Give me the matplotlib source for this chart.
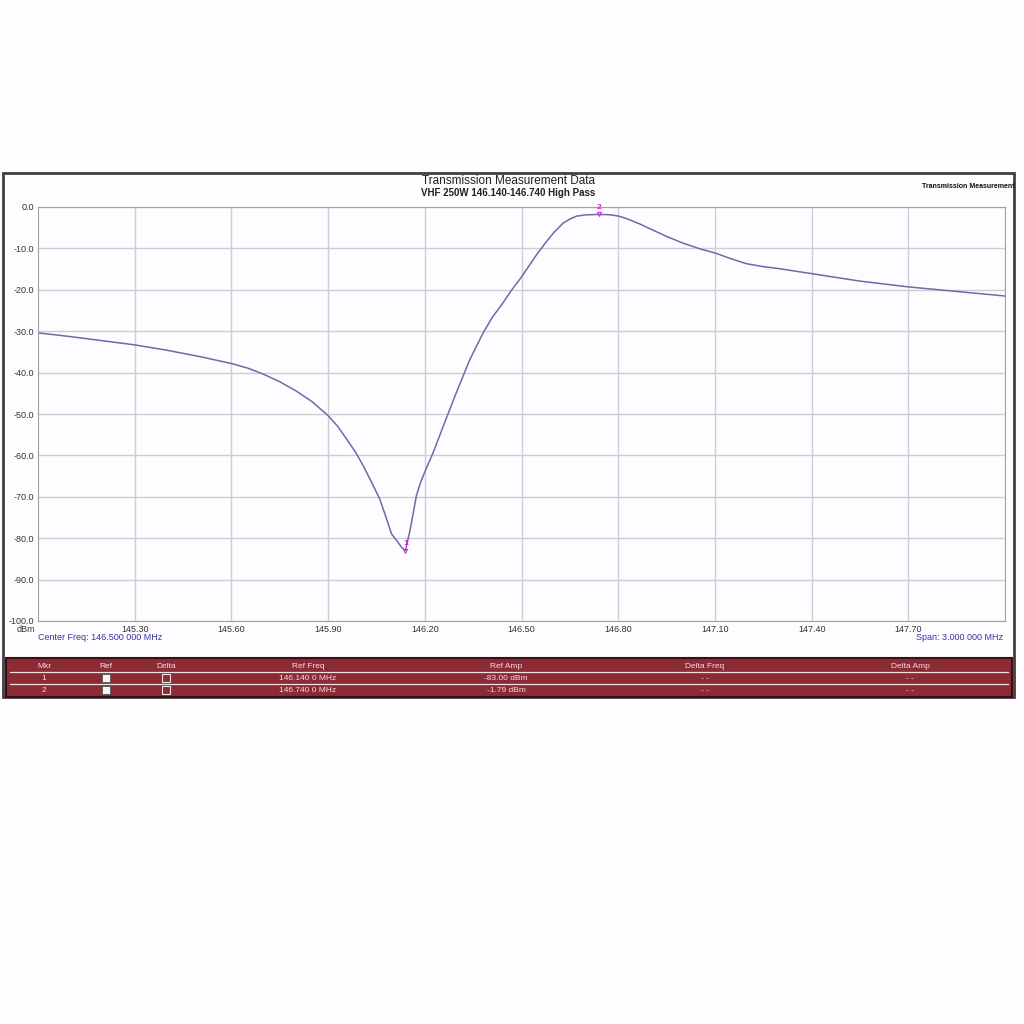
import matplotlib
matplotlib.use("Agg")
import matplotlib.pyplot as plt
from matplotlib.patches import Rectangle

plt.rcParams["font.family"] = ["Liberation Sans", "DejaVu Sans"]

# trace (MHz, dBm)
freq = [145.00, 145.10, 145.20, 145.30, 145.40, 145.50, 145.60, 145.65, 145.70,
        145.75, 145.80, 145.85, 145.90, 145.93, 145.957, 145.985, 146.009, 146.035,
        146.06, 146.08, 146.097, 146.117, 146.128, 146.14, 146.153, 146.164,
        146.174, 146.187, 146.20, 146.226, 146.262, 146.298, 146.34, 146.381,
        146.41, 146.443, 146.47, 146.50, 146.547, 146.575, 146.60, 146.629,
        146.65, 146.671, 146.70, 146.74, 146.77, 146.795, 146.815, 146.836,
        146.87, 146.90, 146.95, 147.00, 147.053, 147.10, 147.15, 147.198,
        147.25, 147.30, 147.40, 147.55, 147.70, 147.85, 148.00]
level = [-30.4, -31.3, -32.3, -33.3, -34.6, -36.1, -37.8, -38.9, -40.4,
         -42.2, -44.4, -47.0, -50.4, -53.0, -56.0, -59.2, -62.5, -66.5,
         -70.5, -75.0, -79.0, -81.0, -82.2, -83.0, -78.5, -74.0,
         -69.7, -66.5, -64.0, -59.3, -52.0, -44.8, -36.8, -30.4,
         -26.6, -23.1, -20.0, -16.9, -11.5, -8.6, -6.2, -3.9,
         -2.9, -2.2, -1.9, -1.79, -1.85, -2.1, -2.5, -3.1,
         -4.2, -5.3, -7.1, -8.7, -10.1, -11.1, -12.5, -13.7,
         -14.4, -14.9, -16.1, -17.9, -19.3, -20.4, -21.5]

mkr_ids = ["1", "2"]
mkr_freq = [146.140, 146.740]
mkr_amp = [-83.00, -1.79]

xticks = [145.30, 145.60, 145.90, 146.20, 146.50, 146.80, 147.10, 147.40, 147.70]
yticks = [0, -10, -20, -30, -40, -50, -60, -70, -80, -90, -100]

table_cols = ["Mkr", "Ref", "Delta", "Ref Freq", "Ref Amp", "Delta Freq", "Delta Amp"]
col_x = [44, 106, 166, 308, 506, 705, 910]

W = H = 1024
fig = plt.figure(figsize=(10.24, 10.24), dpi=100)
fig.patch.set_facecolor("#fefcfe")


def fx(px):
    return px / W


def fy(py):
    return 1 - py / H


# outer window frame
fig.patches.append(Rectangle((fx(3), fy(697)), fx(1014) - fx(3), fy(173) - fy(697),
                             transform=fig.transFigure, fill=False,
                             edgecolor="#404040", linewidth=2))

ax = fig.add_axes([fx(38), fy(621), fx(1005) - fx(38), fy(207) - fy(621)])
ax.set_facecolor("#fefcfe")
ax.plot(freq, level, color="#6b6ba8", linewidth=1.1, solid_joinstyle="round")
ax.set_xlim(145.0, 148.0)
ax.set_ylim(-100, 0)
ax.set_xticks(xticks)
ax.set_xticklabels([f"{t:.2f}" for t in xticks])
ax.set_yticks(yticks)
ax.set_yticklabels([f"{t:.1f}" for t in yticks])
ax.tick_params(length=0, labelsize=6.5, colors="#333333", pad=3)
ax.grid(True, color="#cfcdd3", linewidth=1)
for s in ax.spines.values():
    s.set_color("#a0a0a0")

for mid, mf, ma in zip(mkr_ids, mkr_freq, mkr_amp):
    ax.plot(mf, ma, marker="v", markersize=3, markerfacecolor="none",
            markeredgecolor="#d020d0", markeredgewidth=0.7)
    ax.annotate(mid, (mf, ma), xytext=(0, 2.5), textcoords="offset points",
                ha="center", va="bottom", color="#d020d0", fontsize=6,
                fontweight="bold")

fig.text(fx(508), fy(181), "Transmission Measurement Data", ha="center", va="center",
         fontsize=8.5, color="#222222")
fig.text(fx(508), fy(193), "VHF 250W 146.140-146.740 High Pass", ha="center", va="center",
         fontsize=7, fontweight="bold", color="#222222")
fig.text(fx(1015), fy(187), "Transmission Measurement", ha="right", va="center",
         fontsize=5, fontweight="bold", color="#111111")
fig.text(fx(35), fy(629), "dBm", ha="right", va="center", fontsize=6.5, color="#333333")
fig.text(fx(38), fy(637), "Center Freq: 146.500 000 MHz", ha="left", va="center",
         fontsize=6.5, color="#3535a0")
fig.text(fx(1003), fy(637), "Span: 3.000 000 MHz", ha="right", va="center",
         fontsize=6.5, color="#3535a0")

# marker table
red = "#8c2a36"
fig.patches.append(Rectangle((fx(6), fy(697)), fx(1012) - fx(6), fy(658) - fy(697),
                             transform=fig.transFigure, facecolor=red,
                             edgecolor="#3a1015", linewidth=1.5))
for ly in [672, 684]:
    fig.add_artist(plt.Line2D([fx(10), fx(1008)], [fy(ly), fy(ly)], color="#f0e0e0",
                              linewidth=0.9))
txt = "#f3dede"
for name, cx in zip(table_cols, col_x):
    fig.text(fx(cx), fy(666), name, ha="center", va="center", fontsize=6, color=txt)

rows_y = [678, 690]
for mid, mf, ma, ry in zip(mkr_ids, mkr_freq, mkr_amp, rows_y):
    fig.text(fx(col_x[0]), fy(ry), mid, ha="center", va="center", fontsize=6, color=txt)
    fig.patches.append(Rectangle((fx(col_x[1] - 4), fy(ry + 4)), fx(8), fx(8),
                                 transform=fig.transFigure, facecolor="#f4f4f4",
                                 edgecolor="#555555", linewidth=0.6))
    fig.patches.append(Rectangle((fx(col_x[2] - 4), fy(ry + 4)), fx(8), fx(8),
                                 transform=fig.transFigure, facecolor="none",
                                 edgecolor="#e8e8e8", linewidth=0.8))
    fig.text(fx(col_x[3]), fy(ry), f"{mf:.3f} 0 MHz", ha="center", va="center",
             fontsize=6, color=txt)
    fig.text(fx(col_x[4]), fy(ry), f"{ma:.2f} dBm", ha="center", va="center",
             fontsize=6, color=txt)
    fig.text(fx(col_x[5]), fy(ry), "- -", ha="center", va="center", fontsize=6, color=txt)
    fig.text(fx(col_x[6]), fy(ry), "- -", ha="center", va="center", fontsize=6, color=txt)

fig.savefig("out.png", dpi=100, facecolor=fig.get_facecolor())
